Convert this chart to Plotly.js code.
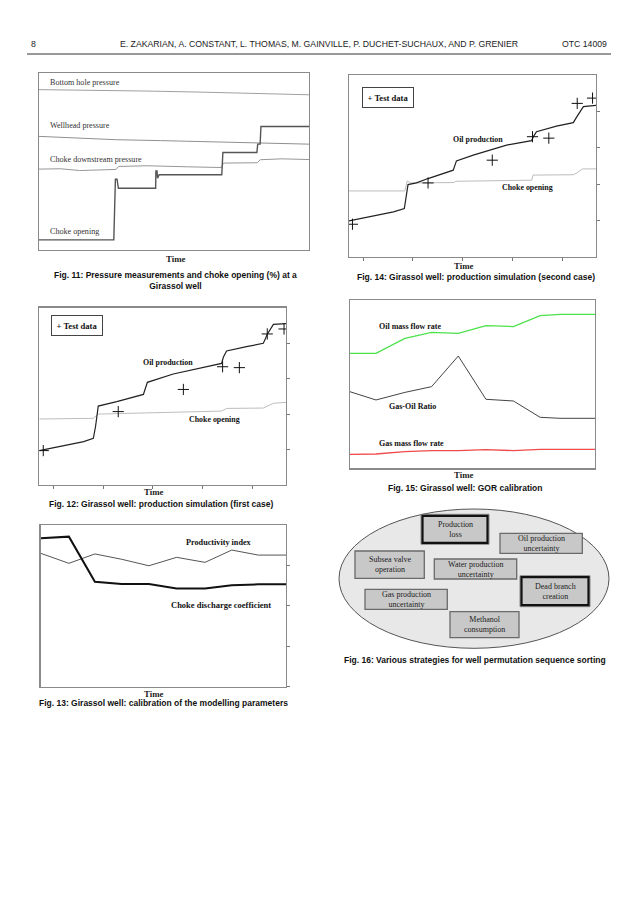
<!DOCTYPE html>
<html>
<head>
<meta charset="utf-8">
<script src="https://cdn.plot.ly/plotly-3.0.1.min.js"></script>
<style>
html,body{margin:0;padding:0;background:#fff;}
#page{width:638px;height:903px;}
</style>
</head>
<body>
<div id="page"></div>
<script>
// ---------------- DATA ----------------
// Fig. 11 (time 0-100, normalized level 0-100)
var f11_bhp_x = [0, 20, 40, 60, 80, 100];
var f11_bhp_y = [90.6, 90.3, 89.8, 89.2, 88.4, 87.7];
var f11_whp_x = [0, 15, 28.7, 45, 67.7, 81.5, 100];
var f11_whp_y = [64.2, 63.2, 62.3, 61.8, 60.9, 60.4, 59.8];
var f11_cdp_x = [0, 8, 15, 25, 28.5, 29.5, 40, 55, 67.5, 68.3, 80.8, 82, 90, 100];
var f11_cdp_y = [45.7, 45.9, 44.9, 45.3, 45.5, 47.2, 47.6, 47.0, 46.6, 49.1, 49.3, 51.0, 51.5, 51.1];
var f11_choke_x = [0, 27.7, 28.3, 28.9, 29.4, 43.2, 43.3, 43.7, 43.9, 44.5, 67.7, 68.1, 80.7, 81.0, 81.9, 82.2, 100];
var f11_choke_y = [5.7, 5.7, 40, 40, 34.9, 34.9, 44.7, 44.7, 40.5, 42.5, 42.5, 55.1, 55.1, 59.8, 59.8, 69.8, 69.8];
var f11_labels = ["Bottom hole pressure", "Wellhead pressure", "Choke downstream pressure", "Choke opening"];
var f11_label_y = [94.9, 70.2, 50.9, 10.4];

// Fig. 12 (first case)
var f12_oil_x = [0, 10, 18, 21.9, 22.8, 23.9, 31.4, 42.2, 42.8, 43.8, 54.3, 63.8, 73.9, 74.6, 75.9, 84, 90.8, 91.5, 92.4, 94.9, 100];
var f12_oil_y = [19.4, 22.2, 24.5, 26.3, 33, 44.5, 47, 51.1, 54, 57.9, 62.6, 65.4, 68.6, 72, 75.6, 78, 79.9, 82, 85, 90.6, 91];
var f12_choke_x = [0, 21.9, 23.9, 50, 73.9, 75.9, 90.8, 94.9, 100];
var f12_choke_y = [37.2, 37.6, 40, 40.8, 41.7, 43.2, 43.4, 46.1, 46.6];
var f12_test_x = [1.6, 32, 58.4, 74.3, 81.1, 92.4, 99.2];
var f12_test_y = [19.4, 41.4, 53.9, 66.7, 66.2, 85.2, 88];

// Fig. 14 (second case)
var f14_oil_x = [0, 10, 18, 22.4, 23, 23.9, 27.3, 32, 42.2, 42.8, 43.5, 50.3, 57, 63.8, 73.9, 74.6, 75.9, 84, 90.8, 91.5, 92.4, 94.9, 100];
var f14_oil_y = [19.8, 22.5, 24.8, 26.6, 32, 39.8, 40.7, 43.1, 47.7, 50, 52.8, 56, 58.7, 61.5, 63.9, 66, 68.8, 71.9, 73.8, 75.5, 77.4, 82.6, 83.3];
var f14_choke_x = [0, 22.6, 23.6, 25, 42.5, 43.2, 74, 74.5, 90.8, 92, 94.5, 100];
var f14_choke_y = [36.3, 36.3, 41.8, 40.7, 40.9, 41.6, 42.2, 45, 45.2, 46, 48.4, 48.4];
var f14_test_x = [1.4, 32, 58, 74.3, 80.9, 92.4, 98.6];
var f14_test_y = [18, 40.7, 53.2, 66.1, 65.3, 84.4, 87.3];

// Fig. 15 (GOR calibration)
var f15_x = [0, 10.6, 22.4, 33.3, 44.2, 55.5, 66.7, 77.6, 85.7, 100];
var f15_oil = [68.3, 68.3, 77.2, 80.8, 80.2, 84.8, 84.2, 90.7, 91.5, 91.5];
var f15_gor = [45.5, 40.6, 45.1, 48.5, 66.7, 41.0, 40.0, 30.3, 29.7, 29.7];
var f15_gas = [8.3, 8.5, 9.9, 10.5, 10.5, 11.1, 10.5, 11.3, 11.3, 11.3];

// Fig. 13 (modelling parameters)
var f13_x = [0, 11.5, 22.1, 33, 44.1, 55.4, 67, 77.9, 88.7, 100];
var f13_cdc = [91.8, 92.8, 64.9, 63.5, 63.5, 60.8, 60.8, 62.7, 63.3, 63.3];
var f13_pi = [82.5, 76.3, 82.1, 78.8, 74.8, 80.0, 76.9, 84.5, 81.4, 81.4];

// Fig. 16 (strategies)
var f16_labels = ["Production<br>loss", "Oil production<br>uncertainty", "Subsea valve<br>operation",
                  "Water production<br>uncertainty", "Dead branch<br>creation", "Gas production<br>uncertainty",
                  "Methanol<br>consumption"];
var f16_emphasis = [true, false, false, false, true, false, false];

// Texts
var header_left = "8";
var header_mid = "E. ZAKARIAN, A. CONSTANT, L. THOMAS, M. GAINVILLE, P. DUCHET-SUCHAUX, AND P. GRENIER";
var header_right = "OTC 14009";
var captions = [
  "Fig. 11: Pressure measurements and choke opening (%) at a<br>Girassol well",
  "Fig. 12: Girassol well: production simulation (first case)",
  "Fig. 13: Girassol well: calibration of the modelling parameters",
  "Fig. 14: Girassol well: production simulation (second case)",
  "Fig. 15: Girassol well: GOR calibration",
  "Fig. 16: Various strategies for well permutation sequence sorting"
];

// ---------------- LAYOUT HELPERS ----------------
var W = 638, H = 903;
function px(x){ return x / W; }
function py(y){ return 1 - y / H; }
var SERIF = "Liberation Serif, Times New Roman, serif";
var SANS = "Liberation Sans, Arial, sans-serif";

function xax(x0, x1, anchor, extra){
  return Object.assign({domain:[px(x0), px(x1)], range:[0,100], anchor:anchor, showgrid:false, zeroline:false,
    showticklabels:false, showline:true, mirror:true, linecolor:'#8a8a8a', linewidth:1.3, ticks:'', fixedrange:true}, extra || {});
}
function yax(y0, y1, anchor, extra){
  return Object.assign({domain:[py(y1), py(y0)], range:[0,100], anchor:anchor, showgrid:false, zeroline:false,
    showticklabels:false, showline:true, mirror:true, linecolor:'#8a8a8a', linewidth:1.3, ticks:'', fixedrange:true}, extra || {});
}
var rightTicks = {side:'right', ticks:'outside', tickvals:[20,40,60,80], ticklen:3, tickcolor:'#777', tickwidth:1};
var bottomTicks = {ticks:'outside', tickvals:[5.8,25.9,45.9,66,86.3], ticklen:3, tickcolor:'#777', tickwidth:1};

function line(x, y, xa, ya, color, width, name){
  return {type:'scatter', mode:'lines', x:x, y:y, xaxis:xa, yaxis:ya, line:{color:color, width:width}, name:name, hoverinfo:'skip', showlegend:false};
}
function crosses(x, y, xa, ya){
  return {type:'scatter', mode:'markers', x:x, y:y, xaxis:xa, yaxis:ya,
    marker:{symbol:'cross-thin', size:8, color:'#111', line:{color:'#111', width:1}}, hoverinfo:'skip', showlegend:false};
}

var traces = [
  // Fig 11
  line(f11_bhp_x, f11_bhp_y, 'x', 'y', '#a0a0a0', 1, 'BHP'),
  line(f11_whp_x, f11_whp_y, 'x', 'y', '#8f8f8f', 1, 'WHP'),
  line(f11_cdp_x, f11_cdp_y, 'x', 'y', '#979797', 1, 'CDP'),
  line(f11_choke_x, f11_choke_y, 'x', 'y', '#555', 1.4, 'Choke'),
  // Fig 14
  line(f14_choke_x, f14_choke_y, 'x2', 'y2', '#bdbdbd', 1, 'Choke'),
  line(f14_oil_x, f14_oil_y, 'x2', 'y2', '#222', 1.2, 'Oil'),
  crosses(f14_test_x, f14_test_y, 'x2', 'y2'),
  // Fig 12
  line(f12_choke_x, f12_choke_y, 'x3', 'y3', '#bdbdbd', 1, 'Choke'),
  line(f12_oil_x, f12_oil_y, 'x3', 'y3', '#222', 1.2, 'Oil'),
  crosses(f12_test_x, f12_test_y, 'x3', 'y3'),
  // Fig 15
  line(f15_x, f15_oil, 'x4', 'y4', '#4be24b', 1.3, 'Oil mass'),
  line(f15_x, f15_gor, 'x4', 'y4', '#444', 1, 'GOR'),
  line(f15_x, f15_gas, 'x4', 'y4', '#f04a4a', 1.3, 'Gas mass'),
  // Fig 13
  line(f13_x, f13_pi, 'x5', 'y5', '#555', 1, 'PI'),
  line(f13_x, f13_cdc, 'x5', 'y5', '#111', 2, 'CDC')
];

// ---------------- ANNOTATIONS ----------------
var ann = [];
function txt(o){ ann.push(Object.assign({showarrow:false, xanchor:'center', yanchor:'middle'}, o)); }

// header
txt({xref:'paper', yref:'paper', x:px(29), y:py(44), xanchor:'left', text:header_left, font:{family:SANS, size:8.7, color:'#222'}});
txt({xref:'paper', yref:'paper', x:px(319), y:py(44), text:header_mid, font:{family:SANS, size:8.7, color:'#222'}});
txt({xref:'paper', yref:'paper', x:px(609), y:py(44), xanchor:'right', text:header_right, font:{family:SANS, size:8.7, color:'#222'}});

// Fig 11 labels
for (var i = 0; i < f11_labels.length; i++) {
  txt({xref:'x', yref:'y', x:3.5, y:f11_label_y[i], xanchor:'left', text:f11_labels[i], font:{family:SERIF, size:8.1, color:'#333'}});
}
// Fig 14 labels
txt({xref:'x2', yref:'y2', x:52.3, y:64.6, text:'<b>Oil production</b>', font:{family:SERIF, size:7.9, color:'#111'}});
txt({xref:'x2', yref:'y2', x:72.2, y:38, text:'<b>Choke opening</b>', font:{family:SERIF, size:7.9, color:'#111'}});
txt({xref:'paper', yref:'paper', x:px(388), y:py(97.5), text:'<b>+ Test data</b>', font:{family:SERIF, size:8.6, color:'#111'},
     bordercolor:'#444', borderwidth:1, borderpad:4.5});
// Fig 12 labels
txt({xref:'x3', yref:'y3', x:52.3, y:69, text:'<b>Oil production</b>', font:{family:SERIF, size:7.9, color:'#111'}});
txt({xref:'x3', yref:'y3', x:70.9, y:37, text:'<b>Choke opening</b>', font:{family:SERIF, size:7.9, color:'#111'}});
txt({xref:'paper', yref:'paper', x:px(77), y:py(325), text:'<b>+ Test data</b>', font:{family:SERIF, size:8.6, color:'#111'},
     bordercolor:'#444', borderwidth:1, borderpad:4.5});
// Fig 15 labels
txt({xref:'x4', yref:'y4', x:24.5, y:84.2, text:'<b>Oil mass flow rate</b>', font:{family:SERIF, size:8, color:'#111'}});
txt({xref:'x4', yref:'y4', x:25.6, y:36.6, text:'<b>Gas-Oil Ratio</b>', font:{family:SERIF, size:8, color:'#111'}});
txt({xref:'x4', yref:'y4', x:25.2, y:14.9, text:'<b>Gas mass flow rate</b>', font:{family:SERIF, size:8, color:'#111'}});
// Fig 13 labels
txt({xref:'x5', yref:'y5', x:72.8, y:89.3, text:'<b>Productivity index</b>', font:{family:SERIF, size:8.2, color:'#111'}});
txt({xref:'x5', yref:'y5', x:73.5, y:50.5, text:'<b>Choke discharge coefficient</b>', font:{family:SERIF, size:8.5, color:'#111'}});

// Time labels
var timePos = [[175,259],[463.7,265.5],[153,491.7],[463.3,475],[153,694]];
timePos.forEach(function(p){
  txt({xref:'paper', yref:'paper', x:px(p[0]), y:py(p[1]), text:'<b>Time</b>', font:{family:SERIF, size:8.8, color:'#222'}});
});

// Captions
var capPos = [[175,280.5],[161,504],[163,702.7],[475.5,276.7],[465,487.7],[475,660]];
for (var c = 0; c < captions.length; c++) {
  txt({xref:'paper', yref:'paper', x:px(capPos[c][0]), y:py(capPos[c][1]), text:'<b>'+captions[c]+'</b>',
       font:{family:SANS, size:8.5, color:'#111'}});
}

// ---------------- SHAPES ----------------
var shapes = [
  {type:'line', xref:'paper', yref:'paper', x0:px(27), x1:px(611), y0:py(54), y1:py(54), line:{color:'#333', width:1}},
  // Fig 16 ellipse
  {type:'circle', xref:'paper', yref:'paper', x0:px(339), x1:px(609), y0:py(509), y1:py(648.3), fillcolor:'#e8e8e8', line:{color:'#555', width:1}}
];
var f16_boxes = [
  [421,514.3,489,544.3],[500,533.3,582.3,553.3],[355,551,424.3,578.3],[434.3,559,516.7,579],
  [520,575.7,590,606.7],[365,589.3,447.3,609.3],[450,611.7,519,637.7]
];
for (var b = 0; b < f16_boxes.length; b++) {
  var r = f16_boxes[b];
  shapes.push({type:'rect', xref:'paper', yref:'paper', x0:px(r[0]), x1:px(r[2]), y0:py(r[3]), y1:py(r[1]),
    fillcolor:'#c8c8c8', line:{color: f16_emphasis[b] ? '#888' : '#6a6a6a', width: f16_emphasis[b] ? 1 : 1.3}});
  if (f16_emphasis[b]) {
    shapes.push({type:'rect', xref:'paper', yref:'paper', x0:px(r[0]+1.5), x1:px(r[2]-1.5), y0:py(r[3]-1.5), y1:py(r[1]+1.5),
      fillcolor:'rgba(0,0,0,0)', line:{color:'#111', width:2.2}});
  }
  txt({xref:'paper', yref:'paper', x:px((r[0]+r[2])/2), y:py((r[1]+r[3])/2), text:f16_labels[b],
       font:{family:SERIF, size:8, color:'#222'}});
}

var layout = {
  width:W, height:H, margin:{l:0, r:0, t:0, b:0}, paper_bgcolor:'#fff', plot_bgcolor:'#fff', showlegend:false,
  xaxis:  xax(39, 309, 'y'),
  yaxis:  yax(73, 250, 'x'),
  xaxis2: xax(349, 596, 'y2', bottomTicks),
  yaxis2: yax(75, 257, 'x2', rightTicks),
  xaxis3: xax(39.3, 286, 'y3', bottomTicks),
  yaxis3: yax(307.7, 485, 'x3', rightTicks),
  xaxis4: xax(350, 595, 'y4'),
  yaxis4: yax(300, 468.3, 'x4'),
  xaxis5: xax(40.7, 286, 'y5'),
  yaxis5: yax(525, 686.7, 'x5', {side:'right', ticks:'outside', tickvals:[0,25,50,75], ticklen:3, tickcolor:'#777', tickwidth:1}),
  annotations: ann,
  shapes: shapes
};

Plotly.newPlot('page', traces, layout, {staticPlot:true, displayModeBar:false});
</script>
</body>
</html>
